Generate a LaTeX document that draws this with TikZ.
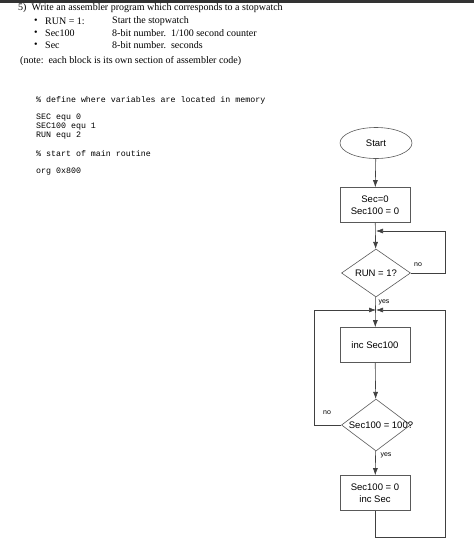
\documentclass[tikz,border=0pt]{standalone}
\usepackage{fontspec}
\setmainfont{Liberation Serif}
\setsansfont{Liberation Sans}
\setmonofont{Liberation Mono}
\usepackage{tikz}
\usetikzlibrary{positioning,shapes.geometric,arrows.meta}
\tikzset{c-rectangle2/.style={rectangle, minimum width=70pt, minimum height=35pt, text centered, align=center, draw=black!65, line width=0.6pt, fill=white, font=\sffamily\fontsize{9.5}{12}\selectfont},
c-ellipse/.style={ellipse, minimum width=72pt, minimum height=31pt, draw=black!65, line width=0.6pt, fill=white, font=\sffamily\fontsize{9.5}{12}\selectfont},
c-diamond/.style={diamond, minimum width=69pt, minimum height=50pt, inner sep=0pt, draw=black!65, line width=0.6pt, fill=white},
c-text/.style={anchor=west, inner sep=0pt, font=\fontsize{10}{12}\selectfont},
c-code/.style={anchor=west, inner sep=0pt, font=\ttfamily\fontsize{8.3}{9}\selectfont},
c-label/.style={inner sep=0pt, font=\sffamily\fontsize{7}{8}\selectfont},
arrow/.style={draw=black!75, line width=0.6pt, ->, >={Latex[length=7pt,width=5pt]}}}

\begin{document}
\begin{tikzpicture}[x=1pt, y=-1pt]
\useasboundingbox (0,0) rectangle (474,550);
\fill[black!80] (0,0) rectangle (474,3);
% task text
\node (title) [c-text] at (18,8) {5)\ \ Write an assembler program which corresponds to a stopwatch};
\node (t1) [c-text] at (34,21) {\textbullet};
\node (t1a) [c-text] at (45,21) {RUN = 1:};
\node (t1b) [c-text] at (112,21) {Start the stopwatch};
\node (t2) [c-text] at (34,33) {\textbullet};
\node (t2a) [c-text] at (45,33) {Sec100};
\node (t2b) [c-text] at (112,33) {8-bit number.\ \ 1/100 second counter};
\node (t3) [c-text] at (34,45) {\textbullet};
\node (t3a) [c-text] at (45,45) {Sec};
\node (t3b) [c-text] at (112,45) {8-bit number.\ \ seconds};
\node (note) [c-text] at (20,61) {(note:\ \ each block is its own section of assembler code)};
% code
\node (c0) [c-code] at (36,100) {\% define where variables are located in memory};
\node (c1) [c-code] at (36,118) {SEC equ 0};
\node (c2) [c-code] at (36,127) {SEC100 equ 1};
\node (c3) [c-code] at (36,136) {RUN equ 2};
\node (c4) [c-code] at (36,154) {\% start of main routine};
\node (c5) [c-code] at (36,172) {org 0x800};
% flowchart
\node (n0) [c-ellipse] at (376,143) {Start};
\node (n1) [c-rectangle2] at (375,205) {Sec=0\\Sec100 = 0};
\node (n2) [c-diamond, minimum height=48pt] at (376,273) {};
\node at (n2) [font=\sffamily\fontsize{9.5}{12}\selectfont] {RUN = 1?};
\node (n3) [c-rectangle2] at (375,345) {inc Sec100};
\node (n4) [c-diamond, minimum height=52pt] at (376,425) {};
\node at ([xshift=5pt]n4.center) [font=\sffamily\fontsize{9.5}{12}\selectfont] {Sec100 = 100?};
\node (n5) [c-rectangle2] at (375,493) {Sec100 = 0\\inc Sec};
\coordinate (j1) at (376,231);
\coordinate (j2) at (376,310);
\coordinate (r1) at (445,231);
\coordinate (l2) at (314,310);
\coordinate (r3) at (445,537);
\draw [arrow] (n0) -- (n1);
\draw [arrow] (n1) -- (n2);
\draw [arrow] (n2.east) -| (r1) -- (j1);
\draw [arrow] (n2) -- (n3);
\draw [arrow] (n3) -- (n4);
\draw [arrow] (n4.west) -| (l2) -- (j2);
\draw [arrow] (n4) -- (n5);
\draw [arrow] (n5.south) |- (r3) |- (j2);
\node (no1) [c-label] at (418,265) {no};
\node (yes1) [c-label] at (384,302) {yes};
\node (no2) [c-label] at (327,413) {no};
\node (yes2) [c-label] at (386,455) {yes};
\end{tikzpicture}
\end{document}
